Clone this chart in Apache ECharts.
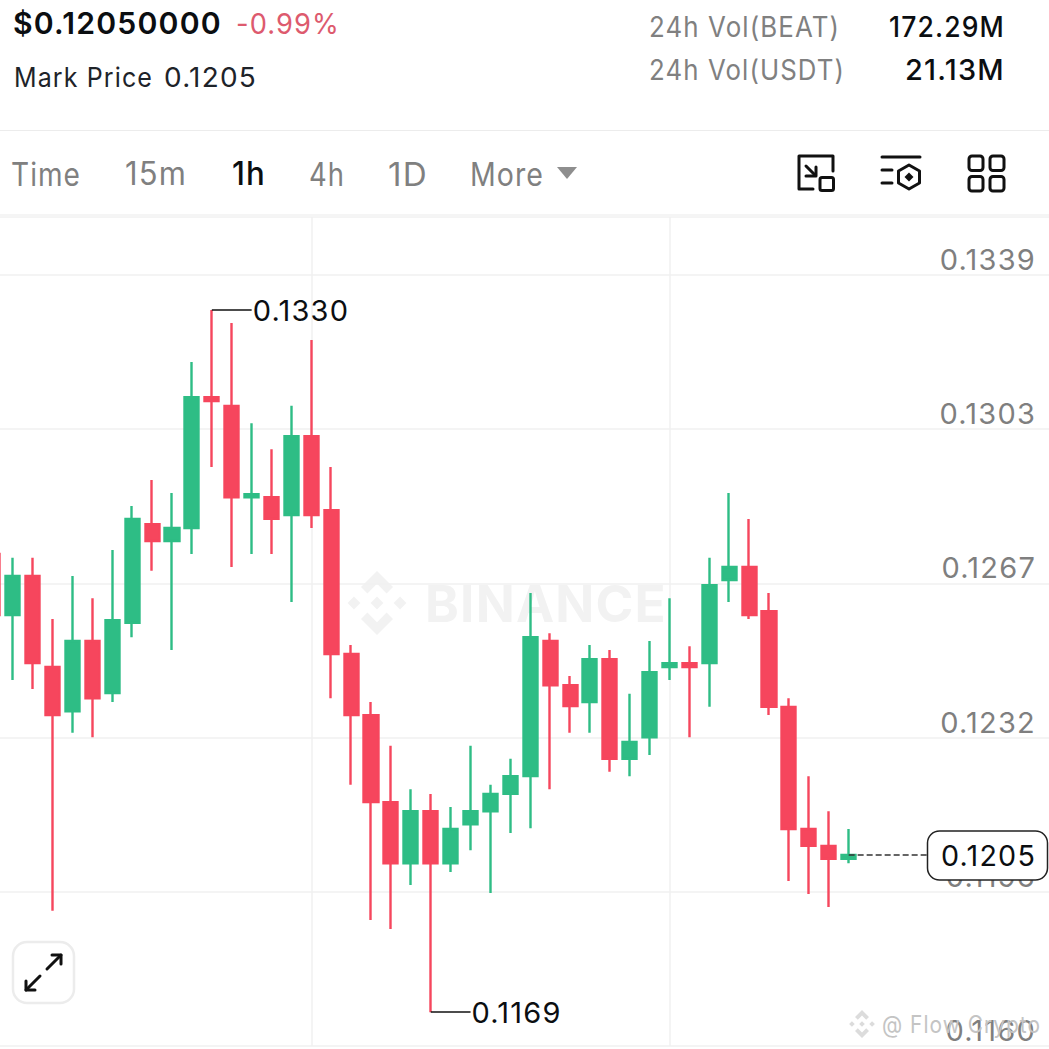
<!DOCTYPE html>
<html><head><meta charset="utf-8">
<style>html,body{margin:0;padding:0;background:#fff}#c{width:1049px;height:1049px}
#c svg text{letter-spacing:1.2px}</style>
<script src="https://cdn.jsdelivr.net/npm/echarts@6/dist/echarts.min.js"></script>
</head><body><div id="c"></div>
<script>
const opens  = [12741,12600,12690,12480,12378,12540,12420,12582,12810,12771,12801,13103,13083,12872,12872,12831,13013,12842,12510,12369,12168,12027,12147,12027,12117,12147,12187,12228,12540,12438,12399,12498,12268,12318,12480,12489,12489,12681,12711,12609,12388,12106,12067,12037];
const closes = [12600,12690,12489,12369,12540,12408,12588,12822,12771,12801,13103,13094,12872,12879,12822,13013,12831,12510,12369,12168,12027,12147,12027,12106,12147,12187,12228,12549,12438,12390,12498,12268,12307,12468,12489,12480,12669,12711,12600,12388,12106,12067,12037,12046];
const lows   = [12577,12450,12429,11917,12328,12318,12399,12549,12702,12519,12741,12942,12711,12741,12741,12630,12801,12408,12208,11896,11875,11977,11683,12007,12057,11958,12097,12108,12198,12328,12328,12238,12228,12277,12450,12318,12388,12630,12591,12369,11986,11956,11926,12027];
const highs  = [12752,12732,12732,12591,12690,12639,12750,12852,12912,12882,13184,13304,13274,13043,12983,13083,13235,12942,12531,12399,12298,12198,12187,12157,12298,12208,12268,12651,12558,12459,12531,12519,12418,12540,12639,12528,12732,12882,12822,12651,12408,12228,12147,12106];
const categories = ['-43','-42','-41','-40','-39','-38','-37','-36','-35','-34','-33','-32','-31','-30','-29','-28','-27','-26','-25','-24','-23','-22','-21','-20','-19','-18','-17','-16','-15','-14','-13','-12','-11','-10','-9','-8','-7','-6','-5','-4','-3','-2','-1','0','+1','+2','+3','+4','+5','+6','+7','+8','+9','+10'];
const yTickLabels = ['0.1160','0.1196','0.1232','0.1267','0.1303','0.1339'];
const markedHigh = {label:'0.1330', from:11, to:13, value:13304};
const markedLow  = {label:'0.1169', from:22, to:24, value:11683};
const lastPrice  = {label:'0.1205', from:43, to:47, value:12046};
const verticalLineAt = [16,34];

const UP='#2EBD85', DOWN='#F6465D', GRID='#f0f0f0', FONT='Inter, "Open Sans", sans-serif', SPACING=1.2;
const scaleP = v => v/100000;
const candleData = opens.map((o,i)=>[scaleP(o),scaleP(closes[i]),scaleP(lows[i]),scaleP(highs[i])]);

const mctx=document.createElement('canvas').getContext('2d');
// text stretched to the width it occupies in the reference
function fit(x,y,text,size,fill,weight,w,align,z){
  const font=`${weight||400} ${size}px ${FONT}`;
  mctx.font=font;
  const natural=mctx.measureText(text).width+text.length*SPACING;
  return {type:'text',z:z==null?100:z,silent:true,x,y,scaleX:w/natural,originX:0,originY:0,
    style:{x:0,y:0,text,font,fill,textAlign:align||'left',textVerticalAlign:'middle'}};
}
function line(x1,y1,x2,y2,stroke,w){return {type:'line',z:100,silent:true,shape:{x1,y1,x2,y2},style:{stroke,lineWidth:w||3,lineCap:'round'}};}
function pl(points,stroke,w){return {type:'polyline',z:100,silent:true,shape:{points},style:{stroke,fill:null,lineWidth:w||3,lineJoin:'round',lineCap:'round'}};}
function box(x,y,width,height,r,stroke,w,fill){return {type:'rect',z:100,silent:true,shape:{x,y,width,height,r},style:{stroke,lineWidth:w||3,fill:fill||null}};}
function logo(cx,cy,s,fill,z){
  const P=(pts)=>({type:'polygon',z,silent:true,shape:{points:pts.map(p=>[cx+p[0]*s,cy+p[1]*s])},style:{fill}});
  const d=(x,y,r)=>P([[x,y-r],[x+r,y],[x,y+r],[x-r,y]]);
  return [d(0,0,.2),d(-.72,0,.2),d(.72,0,.2),
    P([[0,-1],[.5,-.5],[.3,-.3],[0,-.6],[-.3,-.3],[-.5,-.5]]),
    P([[0,1],[.5,.5],[.3,.3],[0,.6],[-.3,.3],[-.5,.5]])];
}
const DARK='#111', GREY='#808080', INK='#0b0e11';
const graphics=[
  fit(13,23.5,'$0.12050000',30,INK,600,209),
  fit(236,24,'-0.99%',29,'#dd5a6e',400,104),
  fit(14,77,'Mark Price',27,'#1e2329',400,139),
  fit(164,77,'0.1205',27,'#1e2329',400,93),
  fit(649,27,'24h Vol(BEAT)',28,GREY,400,191),
  fit(1005,27,'172.29M',28,INK,500,116,'right'),
  fit(649,70,'24h Vol(USDT)',28,GREY,400,196),
  fit(1005,70,'21.13M',28,INK,500,100,'right'),
  {type:'rect',z:100,silent:true,shape:{x:0,y:130,width:1049,height:1},style:{fill:'#ececec'}},
  {type:'rect',z:100,silent:true,shape:{x:0,y:214,width:1049,height:3},style:{fill:'#f5f5f5'}},
  fit(11,174,'Time',32,GREY,400,70),
  fit(125,174,'15m',32,GREY,400,62),
  fit(232,173,'1h',32,INK,500,34),
  fit(309,174,'4h',32,GREY,400,36),
  fit(388,174,'1D',32,GREY,400,40),
  fit(470,174,'More',32,GREY,400,74),
  {type:'polygon',z:100,silent:true,shape:{points:[[557,167],[577,167],[567,179]]},style:{fill:'#8e8e8e'}},
  // icons
  pl([[813,189],[799,189],[799,156],[833,156],[833,171]],DARK),
  box(820,177.5,13.5,13,2,DARK),
  line(806,166,815,175,DARK),
  pl([[816,167],[816,176],[806,176]],DARK),
  line(882,157,920,157,DARK),
  line(882,170,892,170,DARK),
  line(882,183,892,183,DARK),
  {type:'polygon',z:100,silent:true,shape:{points:[[909,165],[919.5,171],[919.5,183],[909,189],[898.5,183],[898.5,171]]},style:{stroke:DARK,lineWidth:3,fill:null,lineJoin:'round'}},
  {type:'polygon',z:100,silent:true,shape:{points:[[909,172.5],[913.5,177],[909,181.5],[904.5,177]]},style:{fill:DARK}},
  box(969,156,14,14.5,3,DARK),box(990,156,14,14.5,3,DARK),box(969,176.5,14,14.5,3,DARK),box(990,176.5,14,14.5,3,DARK),
  // expand button
  box(13,942,61,61,14,'#ececec',2.5,'#fff'),
  line(47,969,61,955,DARK),pl([[52,955],[61,955],[61,964]],DARK),
  line(40,976,26,990,DARK),pl([[26,981],[26,990],[35,990]],DARK),
  // watermarks
  ...logo(377,603,32,'#f2f2f2',0),
  fit(425,603,'BINANCE',51,'#f2f2f2',700,242,'left',0),
  ...logo(862,1024,14,'#dcdcdc',100),
  fit(882,1024,'@ Flow Crypto',24,'#c4c4c4',400,159),
  // last-price tag
  box(927.5,831,120,49,12,'#222',1.5,'#fff'),
  fit(1036,855.5,lastPrice.label,29,INK,400,95,'right')
];

const chart=echarts.init(document.getElementById('c'),null,{renderer:'svg'});
const anno=(m,color,dash,w,showLabel)=>[
  {xAxis:m.from,yAxis:scaleP(m.value),lineStyle:{color,type:dash,width:w},
   label:{show:showLabel,formatter:m.label,position:'end',color:INK,fontSize:29,fontFamily:FONT,distance:1,padding:[6,0,0,0]}},
  {xAxis:m.to,yAxis:scaleP(m.value)}
];
chart.setOption({
  animation:false,
  backgroundColor:'#fff',
  grid:{left:-17,right:-8.6,top:217,bottom:3,containLabel:false,outerBoundsMode:'none'},
  xAxis:{type:'category',data:categories,boundaryGap:true,
    axisLine:{show:false},axisTick:{show:false},axisLabel:{show:false},
    splitLine:{show:true,alignWithLabel:true,lineStyle:{color:GRID,width:1.5},
      interval:(i)=>verticalLineAt.includes(i)}},
  yAxis:{type:'value',position:'right',min:0.11605,max:0.13519,interval:0.00356,
    axisLine:{show:false},axisTick:{show:false},
    splitLine:{show:true,lineStyle:{color:GRID,width:1.5}},
    axisLabel:{show:true,inside:true,margin:21.6,verticalAlign:'bottom',padding:[0,0,1,0],
      showMaxLabel:false,color:'#7f7f7f',fontSize:29,fontFamily:FONT,
      formatter:(v,i)=>yTickLabels[i]||''}},
  series:[{type:'candlestick',data:candleData,barWidth:14.6,clip:false,
    itemStyle:{color:UP,color0:DOWN,borderColor:UP,borderColor0:DOWN,borderWidth:2.4},
    markLine:{silent:true,symbol:'none',animation:false,
      data:[anno(markedHigh,'#111','solid',1.5,true),anno(markedLow,'#111','solid',1.5,true),anno(lastPrice,'#333','dashed',1.5,false)]}}],
  graphic:{elements:graphics}
});
</script></body></html>
